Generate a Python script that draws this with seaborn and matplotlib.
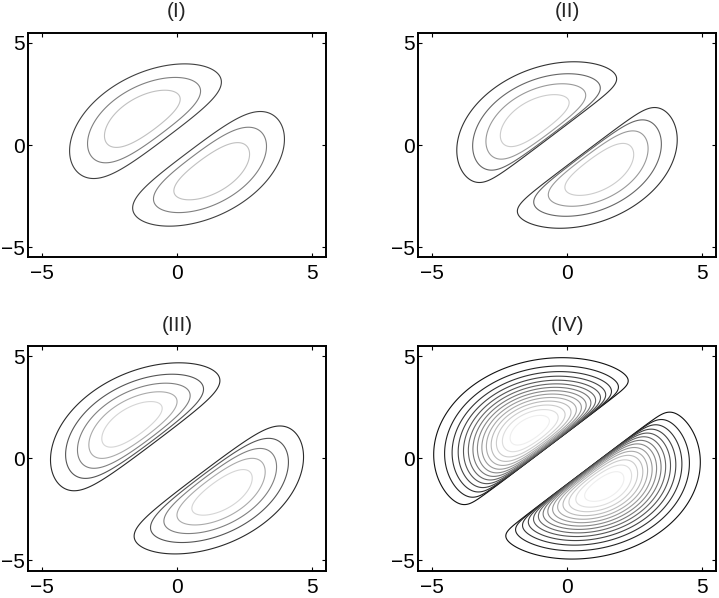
import numpy as np
import matplotlib
matplotlib.use("Agg")
import matplotlib.pyplot as plt
import seaborn as sns

# Panel descriptions
titles = ["(I)", "(II)", "(III)", "(IV)"]
n_levels = [3, 4, 5, 14]               # number of contour levels per panel
gap_half = [0.35, 0.70, 1.07, 0.90]    # half width of the empty band along y = x
rise_exp = [0.8, 0.4, 0.75, 0.35]      # steepness of the rise away from the band
width_perp = [2.8, 2.95, 3.15, 3.32]   # lobe size across the band
width_along = [3.55, 3.45, 3.7, 3.35]  # lobe size along the band
edge_power = [3.0, 3.0, 3.0, 3.0]      # sharpness of the outer rim
tick_values = [-5, 0, 5]
axis_limits = [-5.5, 5.5]

sns.set_theme(style="ticks")
plt.rcParams['font.family'] = ['Liberation Sans', 'DejaVu Sans']

fig = plt.figure(figsize=(7.19, 5.98), dpi=100)
positions = [(0.0394, 0.5697), (0.5818, 0.5697), (0.0394, 0.0457), (0.5818, 0.0457)]
aw, ah = 0.4136, 0.3756

grid = np.linspace(axis_limits[0], axis_limits[1], 551)
X, Y = np.meshgrid(grid, grid)
U = (Y - X) / np.sqrt(2)
V = (X + Y) / np.sqrt(2)

for i, title in enumerate(titles):
    ax = fig.add_axes([positions[i][0], positions[i][1], aw, ah])
    R = np.sqrt((U / width_perp[i]) ** 2 + (V / width_along[i]) ** 2)
    Z = (np.clip(np.abs(U) - gap_half[i], 0, None) ** rise_exp[i]
         * np.exp(-R ** edge_power[i]))
    M = Z.max()
    levels = M * np.arange(1, n_levels[i] + 1) / (n_levels[i] + 1)
    ax.contour(X, Y, Z, levels=levels, cmap="gray", vmin=0, vmax=M,
               linewidths=0.8)
    ax.set_xlim(axis_limits)
    ax.set_ylim(axis_limits)
    ax.set_xticks(tick_values)
    ax.set_yticks(tick_values)
    ax.tick_params(direction="in", length=3, width=0.8, top=True, right=True,
                   labelsize=15, colors="black")
    ax.tick_params(axis="x", pad=5)
    ax.tick_params(axis="y", pad=2.5)
    for s in ax.spines.values():
        s.set_linewidth(1.4)
        s.set_color("black")
    ax.set_title(title, fontsize=15, pad=11)
    ax.set_facecolor("white")

fig.savefig("out.png", dpi=100, facecolor="white")
